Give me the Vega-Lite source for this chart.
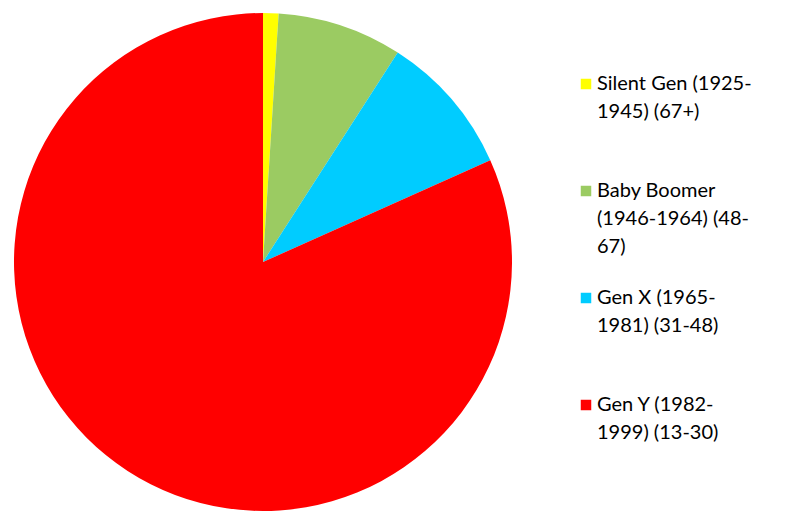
{
  "$schema": "https://vega.github.io/schema/vega-lite/v6.json",
  "width": 526,
  "height": 524,
  "autosize": {"type": "none"},
  "padding": {"left": 0, "top": 0, "right": 274, "bottom": 0},
  "background": "white",
  "config": {"view": {"stroke": null}},
  "data": {
    "values": [
      {"generation": "Silent Gen (1925-1945) (67+)", "share": 1.0, "order": 1},
      {"generation": "Baby Boomer (1946-1964) (48-67)", "share": 8.1, "order": 2},
      {"generation": "Gen X (1965-1981) (31-48)", "share": 9.2, "order": 3},
      {"generation": "Gen Y (1982-1999) (13-30)", "share": 81.7, "order": 4}
    ]
  },
  "mark": {"type": "arc", "outerRadius": 249},
  "encoding": {
    "theta": {"field": "share", "type": "quantitative", "stack": true},
    "order": {"field": "order", "type": "quantitative"},
    "color": {
      "field": "generation",
      "type": "nominal",
      "sort": ["Silent Gen (1925-1945) (67+)", "Baby Boomer (1946-1964) (48-67)", "Gen X (1965-1981) (31-48)", "Gen Y (1982-1999) (13-30)"],
      "scale": {
        "domain": ["Silent Gen (1925-1945) (67+)", "Baby Boomer (1946-1964) (48-67)", "Gen X (1965-1981) (31-48)", "Gen Y (1982-1999) (13-30)"],
        "range": ["#FFFF00", "#9BCB62", "#00CCFF", "#FF0000"]
      },
      "legend": {
        "orient": "none",
        "legendX": 576,
        "legendY": 74,
        "title": null,
        "symbolType": "square",
        "symbolSize": 110,
        "symbolStrokeWidth": 0,
        "labelFont": "Lato",
        "labelFontSize": 20,
        "labelColor": "#000000",
        "labelLimit": 300,
        "labelOffset": 1,
        "gridAlign": "all",
        "rowPadding": 31,
        "encode": {"labels": {"update": {"lineHeight": {"value": 28}}}},
        "labelExpr": "datum.label == 'Silent Gen (1925-1945) (67+)' ? ['Silent Gen (1925-', '1945) (67+)'] : datum.label == 'Baby Boomer (1946-1964) (48-67)' ? ['Baby Boomer', '(1946-1964) (48-', '67)'] : datum.label == 'Gen X (1965-1981) (31-48)' ? ['Gen X (1965-', '1981) (31-48)'] : ['Gen Y (1982-', '1999) (13-30)']"
      }
    }
  }
}
